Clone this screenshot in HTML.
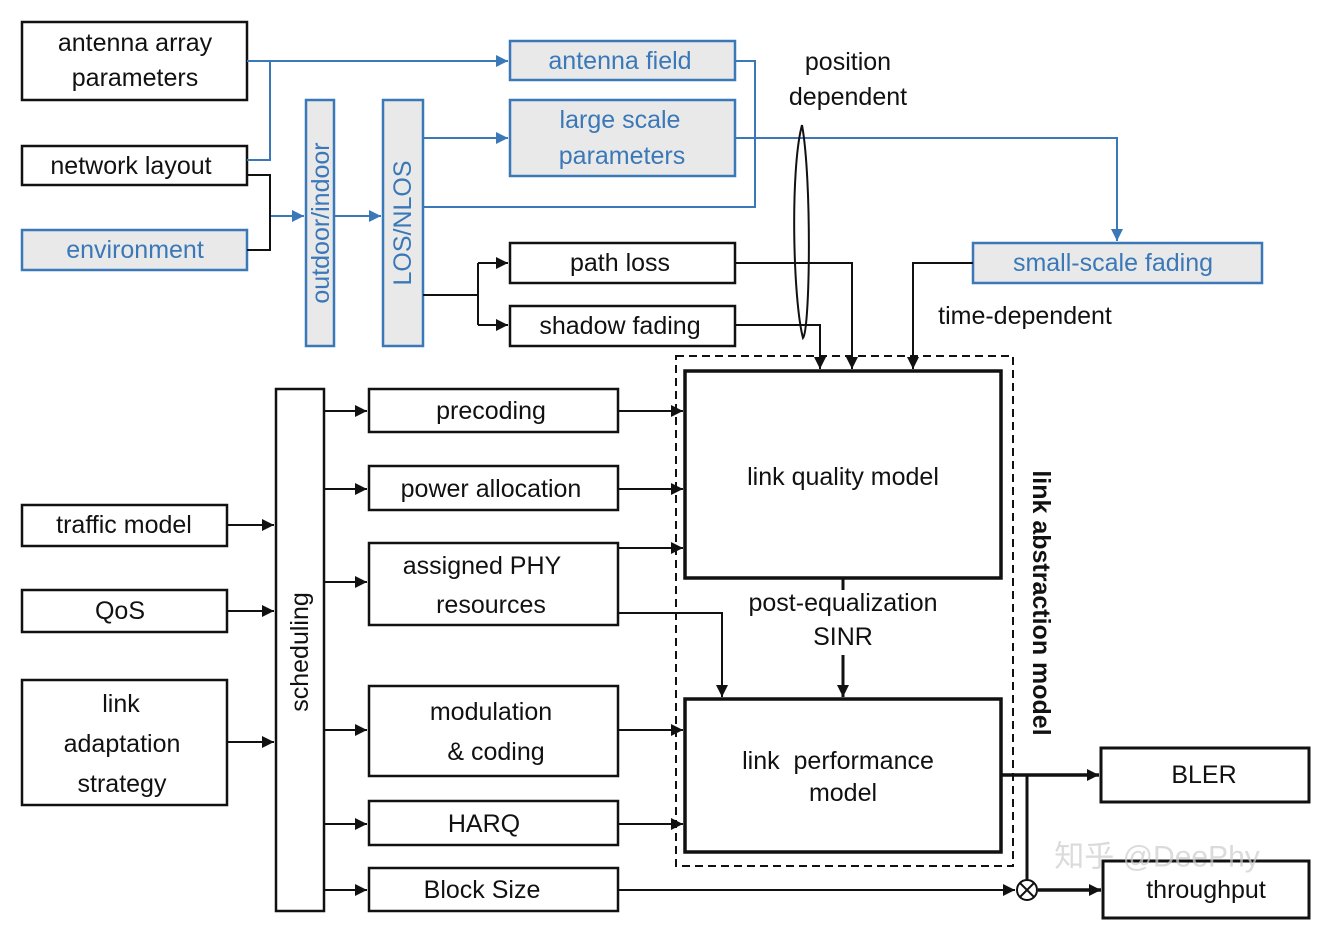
<!DOCTYPE html>
<html><head><meta charset="utf-8"><style>
body{margin:0;background:#fff}
svg text{font-family:"Liberation Sans","Noto Sans CJK SC",sans-serif;font-size:25px;fill:#111;text-anchor:middle;dominant-baseline:central}
text.bl{fill:#3a78b8}
</style></head><body>
<svg width="1322" height="921" viewBox="0 0 1322 921" xmlns="http://www.w3.org/2000/svg">
<defs>
<marker id="ak" viewBox="0 0 10 10" refX="10" refY="5" markerWidth="20" markerHeight="12" markerUnits="userSpaceOnUse" orient="auto"><path d="M0,0L10,5L0,10z" fill="#111"/></marker>
<marker id="ab" viewBox="0 0 10 10" refX="10" refY="5" markerWidth="20" markerHeight="12" markerUnits="userSpaceOnUse" orient="auto"><path d="M0,0L10,5L0,10z" fill="#3a78b8"/></marker>
</defs>
<g fill="#fff" stroke="#111" stroke-width="2.5">
<rect x="22" y="22" width="225" height="78"/>
<rect x="22" y="146" width="225" height="39"/>
<rect x="510" y="243" width="225" height="40"/>
<rect x="510" y="306" width="225" height="40"/>
<rect x="276" y="389" width="48" height="522"/>
<rect x="369" y="389" width="249" height="43"/>
<rect x="369" y="466" width="249" height="44"/>
<rect x="369" y="543" width="249" height="82"/>
<rect x="369" y="686" width="249" height="90"/>
<rect x="369" y="801" width="249" height="44"/>
<rect x="369" y="868" width="249" height="43"/>
<rect x="22" y="505" width="205" height="41"/>
<rect x="22" y="590" width="205" height="42"/>
<rect x="22" y="680" width="205" height="125"/>
<rect x="1101" y="748" width="208" height="54" stroke-width="3"/>
<rect x="1103" y="861" width="206" height="57" stroke-width="3"/>
<rect x="685" y="371" width="316" height="207" stroke-width="3.5"/>
<rect x="685" y="699" width="316" height="153" stroke-width="3.5"/>
</g>
<rect x="676" y="356" width="337" height="510" fill="none" stroke="#111" stroke-width="2" stroke-dasharray="8,5"/>
<g fill="#e9e9e9" stroke="#3a78b8" stroke-width="2.5">
<rect x="22" y="230" width="225" height="40"/>
<rect x="306" y="100" width="28" height="246"/>
<rect x="383" y="100" width="40" height="246"/>
<rect x="510" y="41" width="225" height="39"/>
<rect x="510" y="100" width="225" height="76"/>
<rect x="973" y="243" width="289" height="40"/>
</g>
<g fill="none" stroke="#3a78b8" stroke-width="2">
<path d="M247,61H508" marker-end="url(#ab)"/>
<path d="M247,160H270V61"/>
<path d="M270,216H304" marker-end="url(#ab)"/>
<path d="M334,216H381" marker-end="url(#ab)"/>
<path d="M423,138H508" marker-end="url(#ab)"/>
<path d="M423,207H755V61H735"/>
<path d="M735,138H1117V241" marker-end="url(#ab)"/>
</g>
<g fill="none" stroke="#111" stroke-width="2">
<path d="M247,175H270V250H247"/>
<path d="M423,295H478"/>
<path d="M478,263V325"/>
<path d="M478,263H508" marker-end="url(#ak)"/>
<path d="M478,325H508" marker-end="url(#ak)"/>
<path d="M735,263H852V369" marker-end="url(#ak)"/>
<path d="M735,325H820V369" marker-end="url(#ak)"/>
<path d="M973,263H913V369" marker-end="url(#ak)"/>
<path d="M802,125C790,170 793,300 803,338C810,330 812,180 802,125"/>
<path d="M227,525H274" marker-end="url(#ak)"/>
<path d="M227,611H274" marker-end="url(#ak)"/>
<path d="M227,742H274" marker-end="url(#ak)"/>
<path d="M324,411H367" marker-end="url(#ak)"/>
<path d="M324,489H367" marker-end="url(#ak)"/>
<path d="M324,582H367" marker-end="url(#ak)"/>
<path d="M324,730H367" marker-end="url(#ak)"/>
<path d="M324,824H367" marker-end="url(#ak)"/>
<path d="M324,890H367" marker-end="url(#ak)"/>
<path d="M618,411H683" marker-end="url(#ak)"/>
<path d="M618,489H683" marker-end="url(#ak)"/>
<path d="M618,548H683" marker-end="url(#ak)"/>
<path d="M618,613H722V697" marker-end="url(#ak)"/>
<path d="M618,730H683" marker-end="url(#ak)"/>
<path d="M618,824H683" marker-end="url(#ak)"/>
<path d="M618,890H1015" marker-end="url(#ak)"/>
<path d="M843,578V590" stroke-width="3"/>
<path d="M843,655V697" stroke-width="3" marker-end="url(#ak)"/>
<path d="M1001,775H1099" stroke-width="3.5" marker-end="url(#ak)"/>
<path d="M1027,775V880" stroke-width="3"/>
<path d="M1038,890H1101" stroke-width="3.5" marker-end="url(#ak)"/>
<circle cx="1027" cy="890" r="10" fill="#fff"/>
<path d="M1020,883L1034,897M1034,883L1020,897"/>
</g>
<text x="135" y="43">antenna array</text>
<text x="135" y="78">parameters</text>
<text x="131" y="166">network layout</text>
<text x="135" y="250" class="bl">environment</text>
<text class="bl" transform="translate(321,223) rotate(-90)">outdoor/indoor</text>
<text class="bl" transform="translate(403,223) rotate(-90)">LOS/NLOS</text>
<text x="620" y="61" class="bl">antenna field</text>
<text x="620" y="120" class="bl">large scale</text>
<text x="622" y="156" class="bl">parameters</text>
<text x="620" y="263">path loss</text>
<text x="620" y="326">shadow fading</text>
<text x="1113" y="263" class="bl">small-scale fading</text>
<text x="848" y="62">position</text>
<text x="848" y="97">dependent</text>
<text x="1025" y="316">time-dependent</text>
<text transform="translate(300,652) rotate(-90)">scheduling</text>
<text x="491" y="411">precoding</text>
<text x="491" y="489">power allocation</text>
<text x="482" y="566">assigned PHY</text>
<text x="491" y="605">resources</text>
<text x="491" y="712">modulation</text>
<text x="496" y="752">&amp; coding</text>
<text x="484" y="824">HARQ</text>
<text x="482" y="890">Block Size</text>
<text x="124" y="525">traffic model</text>
<text x="120" y="611">QoS</text>
<text x="121" y="704">link</text>
<text x="122" y="744">adaptation</text>
<text x="122" y="784">strategy</text>
<text x="843" y="477">link quality model</text>
<text x="843" y="603">post-equalization</text>
<text x="843" y="637">SINR</text>
<text x="838" y="761">link&#160;&#160;performance</text>
<text x="843" y="793">model</text>
<text x="1204" y="775">BLER</text>
<text x="1206" y="890">throughput</text>
<text transform="translate(1041,603) rotate(90)" style="font-weight:bold">link abstraction model</text>
<text x="1157" y="857" style="fill:#ccc;font-size:30px;opacity:.7">知乎 @DeePhy</text>
</svg>
</body></html>
